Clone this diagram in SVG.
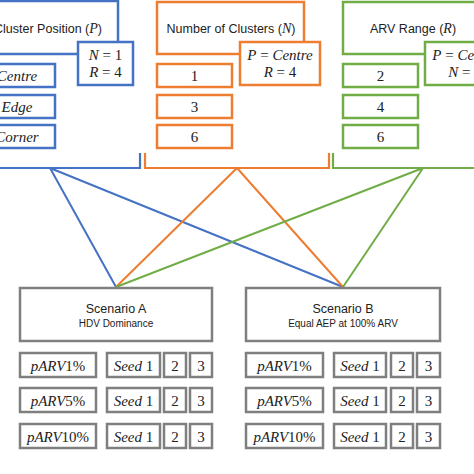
<svg xmlns="http://www.w3.org/2000/svg" width="474" height="474" viewBox="0 0 474 474">
<style>
.bl{stroke:#4472C4}.or{stroke:#ED7D31}.gr{stroke:#70AD47}.gy{stroke:#7F7F7F}
rect{fill:#fff;stroke-width:2.5}
.br{fill:none;stroke-width:2.2}
.ln{fill:none;stroke-width:2}
.t{font-family:"Liberation Sans",Arial,sans-serif;font-size:12.5px;fill:#222;text-anchor:middle}
.s{font-family:"Liberation Sans",Arial,sans-serif;font-size:10px;fill:#222;text-anchor:middle}
.m{font-family:"Liberation Serif","Times New Roman",serif;font-size:15px;fill:#222;text-anchor:middle}
.i{font-style:italic}
</style>
<g id="connectors">
<path class="ln bl" d="M50,168 L116,287 M50,168 L343,287"/>
<path class="ln or" d="M237,168 L116,287 M237,168 L343,287"/>
<path class="ln gr" d="M423,168 L116,287 M423,168 L343,287"/>
<path class="br bl" d="M-5,168 H140 V153"/>
<path class="br or" d="M145,153 V168 H329 V153"/>
<path class="br gr" d="M333,153 V168 H480"/>
</g>
<g id="panel-P">
<rect class="bl" x="-30" y="1" width="148" height="53"/>
<text class="t" x="48" y="33">Cluster Position (<tspan class="i" font-family="Liberation Serif,serif" font-size="14">P</tspan>)</text>
<rect class="bl" x="78" y="42" width="55" height="43"/>
<text class="m" x="105.5" y="60"><tspan class="i">N</tspan> = 1</text>
<text class="m" x="105.5" y="77"><tspan class="i">R</tspan>  =  4</text>
<rect class="bl" x="-20" y="64" width="75" height="23"/>
<text class="m i" x="17" y="81">Centre</text>
<rect class="bl" x="-20" y="95" width="75" height="23"/>
<text class="m i" x="17" y="112">Edge</text>
<rect class="bl" x="-20" y="125" width="75" height="23"/>
<text class="m i" x="17" y="142">Corner</text>
</g>
<g id="panel-N">
<rect class="or" x="157" y="2" width="147" height="52"/>
<text class="t" x="231" y="33">Number of Clusters (<tspan class="i" font-family="Liberation Serif,serif" font-size="14">N</tspan>)</text>
<rect class="or" x="240" y="42" width="80" height="43"/>
<text class="m" x="280" y="60"><tspan class="i">P</tspan> = <tspan class="i">Centre</tspan></text>
<text class="m" x="280" y="77"><tspan class="i">R</tspan>  =  4</text>
<rect class="or" x="157" y="64" width="75" height="23"/>
<text class="m" x="194.5" y="81">1</text>
<rect class="or" x="157" y="95" width="75" height="23"/>
<text class="m" x="194.5" y="112">3</text>
<rect class="or" x="157" y="125" width="75" height="23"/>
<text class="m" x="194.5" y="142">6</text>
</g>
<g id="panel-R">
<rect class="gr" x="343" y="2" width="147" height="52"/>
<text class="t" x="413" y="33">ARV Range (<tspan class="i" font-family="Liberation Serif,serif" font-size="14">R</tspan>)</text>
<rect class="gr" x="425" y="42" width="80" height="43"/>
<text class="m" x="465" y="60"><tspan class="i">P</tspan> = <tspan class="i">Centre</tspan></text>
<text class="m" x="465" y="77"><tspan class="i">N</tspan>  =  1</text>
<rect class="gr" x="343" y="64" width="75" height="23"/>
<text class="m" x="380.5" y="81">2</text>
<rect class="gr" x="343" y="95" width="75" height="23"/>
<text class="m" x="380.5" y="112">4</text>
<rect class="gr" x="343" y="125" width="75" height="23"/>
<text class="m" x="380.5" y="142">6</text>
</g>
<g id="scenario-A">
<rect class="gy" x="20" y="288" width="192" height="53"/>
<text class="t" x="116" y="313" font-size="13">Scenario A</text>
<text class="s" x="116" y="327">HDV Dominance</text>
<rect class="gy" x="20" y="353" width="76" height="24"/>
<text class="m" x="58" y="371"><tspan class="i">pARV</tspan>1%</text>
<rect class="gy" x="107" y="353" width="53" height="24"/>
<text class="m" x="133.5" y="371"><tspan class="i">Seed</tspan> 1</text>
<rect class="gy" x="164" y="353" width="22" height="24"/>
<text class="m" x="175" y="371">2</text>
<rect class="gy" x="190" y="353" width="22" height="24"/>
<text class="m" x="201" y="371">3</text>
<rect class="gy" x="20" y="388" width="76" height="24"/>
<text class="m" x="58" y="406"><tspan class="i">pARV</tspan>5%</text>
<rect class="gy" x="107" y="388" width="53" height="24"/>
<text class="m" x="133.5" y="406"><tspan class="i">Seed</tspan> 1</text>
<rect class="gy" x="164" y="388" width="22" height="24"/>
<text class="m" x="175" y="406">2</text>
<rect class="gy" x="190" y="388" width="22" height="24"/>
<text class="m" x="201" y="406">3</text>
<rect class="gy" x="20" y="424" width="76" height="24"/>
<text class="m" x="58" y="442"><tspan class="i">pARV</tspan>10%</text>
<rect class="gy" x="107" y="424" width="53" height="24"/>
<text class="m" x="133.5" y="442"><tspan class="i">Seed</tspan> 1</text>
<rect class="gy" x="164" y="424" width="22" height="24"/>
<text class="m" x="175" y="442">2</text>
<rect class="gy" x="190" y="424" width="22" height="24"/>
<text class="m" x="201" y="442">3</text>
</g>
<g id="scenario-B">
<rect class="gy" x="246" y="288" width="194" height="53"/>
<text class="t" x="343" y="313" font-size="13">Scenario B</text>
<text class="s" x="343" y="327">Equal AEP at 100% ARV</text>
<rect class="gy" x="246" y="353" width="77" height="24"/>
<text class="m" x="284.5" y="371"><tspan class="i">pARV</tspan>1%</text>
<rect class="gy" x="334" y="353" width="52" height="24"/>
<text class="m" x="360" y="371"><tspan class="i">Seed</tspan> 1</text>
<rect class="gy" x="391" y="353" width="22" height="24"/>
<text class="m" x="402" y="371">2</text>
<rect class="gy" x="417" y="353" width="23" height="24"/>
<text class="m" x="428.5" y="371">3</text>
<rect class="gy" x="246" y="388" width="77" height="24"/>
<text class="m" x="284.5" y="406"><tspan class="i">pARV</tspan>5%</text>
<rect class="gy" x="334" y="388" width="52" height="24"/>
<text class="m" x="360" y="406"><tspan class="i">Seed</tspan> 1</text>
<rect class="gy" x="391" y="388" width="22" height="24"/>
<text class="m" x="402" y="406">2</text>
<rect class="gy" x="417" y="388" width="23" height="24"/>
<text class="m" x="428.5" y="406">3</text>
<rect class="gy" x="246" y="424" width="77" height="24"/>
<text class="m" x="284.5" y="442"><tspan class="i">pARV</tspan>10%</text>
<rect class="gy" x="334" y="424" width="52" height="24"/>
<text class="m" x="360" y="442"><tspan class="i">Seed</tspan> 1</text>
<rect class="gy" x="391" y="424" width="22" height="24"/>
<text class="m" x="402" y="442">2</text>
<rect class="gy" x="417" y="424" width="23" height="24"/>
<text class="m" x="428.5" y="442">3</text>
</g>
</svg>
